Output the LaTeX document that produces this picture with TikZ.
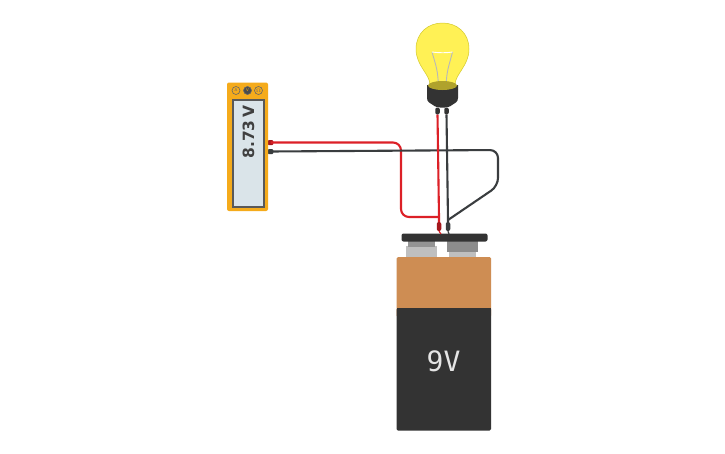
\documentclass[tikz,border=0pt]{standalone}
\usepackage{fontspec}
\setmainfont{DejaVu Sans}
\newfontfamily\monofont{DejaVu Sans Mono}
\usepackage{tikz}
\usetikzlibrary{positioning}
\definecolor{meterorange}{HTML}{F5AB1B}
\definecolor{screenblue}{HTML}{DAE4E9}
\definecolor{darkgray}{HTML}{333333}
\definecolor{wirered}{HTML}{DC2027}
\definecolor{wireblack}{HTML}{3A3D3F}
\definecolor{copper}{HTML}{CE8D53}
\definecolor{bulbyellow}{HTML}{FFF155}
\definecolor{bulbneck}{HTML}{B0A22C}
\tikzset{
    wire/.style={line width=2.1pt, rounded corners=8pt},
    lead/.style={minimum width=4.5pt, minimum height=9pt, inner sep=0pt, rounded corners=2pt},
    part/.style={inner sep=0pt, outer sep=0pt, anchor=north west},
    knob/.style={circle, draw=black!60, line width=0.6pt, minimum size=8pt, inner sep=0pt, font=\fontsize{4}{4}\selectfont},
}
\begin{document}
\begin{tikzpicture}[x=1pt,y=-1pt]
    \useasboundingbox[fill=white] (0,0) rectangle (725,453);

    % wires
    \coordinate (redturn) at (439,217);
    \coordinate (blackturn) at (448,220);
    \node[lead, fill=wirered!75!black, minimum width=5.5pt, minimum height=5pt, rounded corners=1pt] (mred) at (270.5,142.5) {};
    \node[lead, fill=wireblack, minimum width=5.5pt, minimum height=5pt, rounded corners=1pt] (mblack) at (270.5,151.5) {};
    \node[lead, fill=wirered!75!black] (bred) at (439,226.5) {};
    \node[lead, fill=wireblack] (bblack) at (448,226.5) {};
    \node[lead, fill=darkgray, minimum height=7pt] (lred) at (437.5,111) {};
    \node[lead, fill=darkgray, minimum height=7pt] (lblack) at (446.5,111) {};
    \draw[wire, wirered] (mred.center) -- (401,142.5) -- (401,217) -- (redturn);
    \draw[wire, wireblack] (mblack.center) -- (498,150) -- (498,186) -- (blackturn);
    \draw[wire, wireblack, rounded corners=0pt] (lblack.south) -- (blackturn) -- (bblack.north);
    \draw[wire, wirered, rounded corners=0pt] (lred.south) -- (redturn) -- (bred.north);

    % multimeter
    \node[part, fill=meterorange, rounded corners=2pt, minimum width=41pt, minimum height=128.5pt] (meter) at (227,82.5) {};
    \node[part, fill=screenblue, draw=black!65, line width=2pt, minimum width=31pt, minimum height=107pt] (screen) at (232.5,99.5) {};
    \node[knob, fill=meterorange, text=black!60] (knoba) at (236,90.5) {A};
    \node[knob, fill=black!70, text=meterorange] (knobv) at (247.5,90.5) {V};
    \node[knob, fill=meterorange, text=black!60] (knobr) at (258.5,90.5) {$\Omega$};
    \node[rotate=90, text=black!75, font=\bfseries\fontsize{15.5}{15.5}\selectfont] (reading) at (248.5,132) {8.73\hspace{3pt}V};

    % bulb
    \draw[fill=bulbyellow, draw=yellow!80!black, line width=0.5pt] (430,85) .. controls (430,74) and (416,66) .. (416,49)
        .. controls (416,33) and (428,23) .. (442.5,23)
        .. controls (457,23) and (469,33) .. (469,49)
        .. controls (469,66) and (455,74) .. (455,85) -- cycle;
    \draw[black!28, line width=0.9pt] (432,52) .. controls (436,66) and (438,70) .. (438.5,88);
    \draw[black!28, line width=0.9pt] (452.5,52) .. controls (449,66) and (446.5,70) .. (446,88);
    \draw[white, line width=0.9pt] (432,52) .. controls (440,53) and (446,53) .. (452.5,52);
    \fill[darkgray] (427,85) -- (458,85) -- (458,98) .. controls (458,102) and (455,103) .. (452,105)
        .. controls (449,108.5) and (436,108.5) .. (433,105)
        .. controls (430,103) and (427,102) .. (427,98) -- cycle;
    \fill[bulbneck] (442.5,85.5) ellipse (14.5 and 4.5);

    % battery
    \node[part, fill=black!25, minimum width=31pt, minimum height=12pt] (posbody) at (406,246) {};
    \node[part, fill=black!42, minimum width=27pt, minimum height=6pt] (poscap) at (408,241) {};
    \node[part, fill=black!25, minimum width=27pt, minimum height=7pt] (negbody) at (449,251) {};
    \node[part, fill=black!45, minimum width=31pt, minimum height=11pt] (negcap) at (447,241) {};
    \node[part, fill=darkgray, rounded corners=2pt, minimum width=86pt, minimum height=8pt] (clip) at (401.5,233.5) {};
    \draw[wirered, line width=1.2pt] (bred.south) -- (441,234);
    \draw[wireblack, line width=1.2pt] (bblack.south) -- (449,234);
    \node[part, fill=copper, rounded corners=1.5pt, minimum width=94.5pt, minimum height=60pt] (top) at (396.5,257) {};
    \node[part, fill=darkgray, rounded corners=1.5pt, minimum width=94.5pt, minimum height=122.5pt] (body) at (396.5,308) {};
    \fill[darkgray] (396.5,308) rectangle (491,314);
    \node[text=black!10, font=\monofont\fontsize{28}{28}\selectfont] (label) at (443.5,361) {9V};
\end{tikzpicture}
\end{document}
